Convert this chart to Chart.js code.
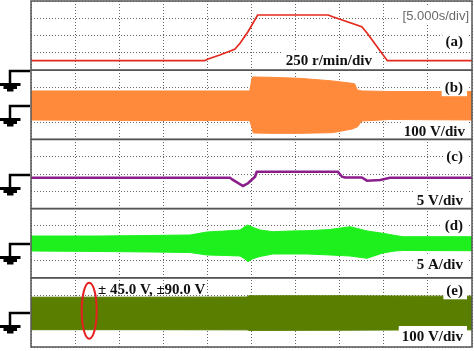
<!DOCTYPE html>
<html>
<head>
<meta charset="utf-8">
<script src="https://cdn.jsdelivr.net/npm/chart.js"></script>
<style>
    html, body { margin: 0; padding: 0; background: #fff; }
    canvas { display: block; }
</style>
</head>
<body>
<canvas id="osc" width="474" height="351"></canvas>
<script>
/*
    Scope capture, 5.000 s/div, 10 div
*/
const time_ticks = [0, 5, 10, 15, 20, 25, 30, 35, 40, 45, 50];

// (a) speed, r/min
const speed_t = [0, 19.7, 20.0, 21.4, 23.1, 23.7, 24.6, 25.7, 33.7, 34.2, 37.5, 38.1, 40.4, 50];
const speed_v = [137, 137, 158, 220, 302, 389, 556, 798, 798, 773, 629, 538, 137, 137];

// (b) output voltage envelope, V
const vout_t  = [0, 13.5, 24.8, 25.06, 25.2, 27.1, 30.5, 34.2, 36.4, 36.7, 37.0, 37.5, 40.7, 50];
const vout_hi = [80, 80, 80, 155, 161, 159, 153, 138, 124, 121, 86, 80, 77, 77];
const vout_lo = [-88, -91, -91, -134, -163, -165, -165, -161, -140, -134, -128, -94, -85, -88];

// (c) voltage, V
const vc_t = [0, 22.56, 22.9, 24.04, 24.6, 25.4, 25.6, 34.8, 35.26, 35.6, 37.5, 38.1, 39.6, 40.7, 50];
const vc_v = [-1.07, -1.07, -1.73, -3.47, -2.69, -0.78, 0.66, 0.66, -0.78, -1.01, -1.01, -1.94, -1.73, -1.07, -1.07];

// (d) current envelope, A
const cur_t  = [0, 7.82, 13.49, 18.03, 19.95, 22.0, 23.7, 24.26, 24.6, 25.06, 25.96, 27.44, 29.37, 31.3, 33.9, 36.17, 38.1, 39.9, 41.27, 42.2, 50];
const cur_hi = [2.08, 2.08, 2.23, 2.37, 3.24, 3.53, 3.81, 4.83, 5.26, 4.68, 3.81, 3.32, 3.53, 3.61, 3.96, 4.77, 3.53, 2.86, 2.23, 1.88, 1.88];
const cur_lo = [-2.25, -2.4, -2.54, -2.69, -3.41, -3.55, -3.7, -4.57, -5.35, -4.57, -3.84, -3.12, -3.12, -3.12, -3.41, -3.7, -4.36, -2.83, -2.25, -2.11, -2.17];

// (e) voltage envelope, V
const ve_t  = [0, 13.5, 24.5, 24.7, 35, 46, 50];
const ve_hi = [88, 88, 89, 96, 96, 94, 94];
const ve_lo = [-100, -100, -101, -104, -103, -101, -101];

// panels, top to bottom
const panel_ids    = ['ya', 'yb', 'yc', 'yd', 'ye'];
const panel_names  = ['(a)', '(b)', '(c)', '(d)', '(e)'];
const panel_units  = ['250 r/min/div', '100 V/div', '5 V/div', '5 A/div', '100 V/div'];
const panel_min    = [0, -200, -10, -10, -200];
const panel_max    = [1000, 200, 10, 10, 200];
const panel_step   = [250, 100, 5, 5, 100];
const time_label   = '[5.000s/div]';
const note_label   = '\u00b1 45.0 V, \u00b190.0 V';
const note_time    = 6.6;   // s, ringed spot in (e)

const pts = (t, v) => t.map((x, i) => ({ x: x, y: v[i] }));

function band(t, hi, lo, axis, color) {
    return [{
        data: pts(t, hi), yAxisID: axis,
        borderColor: color, backgroundColor: color, borderWidth: 1,
        fill: false, pointRadius: 0
    }, {
        data: pts(t, lo), yAxisID: axis,
        borderColor: color, backgroundColor: color, borderWidth: 1,
        fill: '-1', pointRadius: 0
    }];
}

const datasets = [
    { data: pts(speed_t, speed_v), yAxisID: 'ya', borderColor: '#e42a1e', borderWidth: 1.7, fill: false, pointRadius: 0 },
    ...band(vout_t, vout_hi, vout_lo, 'yb', '#ff8a3c'),
    { data: pts(vc_t, vc_v), yAxisID: 'yc', borderColor: '#8c1e8c', borderWidth: 2.6, fill: false, pointRadius: 0 },
    ...band(cur_t, cur_hi, cur_lo, 'yd', '#1ef01e'),
    ...band(ve_t, ve_hi, ve_lo, 'ye', '#5a7f00')
];

const scales = {
    x: {
        type: 'linear', min: time_ticks[0], max: time_ticks[time_ticks.length - 1],
        afterBuildTicks: (s) => { s.ticks = time_ticks.map(v => ({ value: v })); },
        ticks: { display: false },
        grid: { color: '#666', lineWidth: 1, drawTicks: false },
        border: { display: false, dash: [1, 2] }
    }
};
// stacked axes are laid out bottom-up, so add them from (e) to (a)
for (let i = panel_ids.length - 1; i >= 0; i--) {
    scales[panel_ids[i]] = {
        type: 'linear', position: 'left', stack: 'osc', stackWeight: 1,
        min: panel_min[i], max: panel_max[i],
        ticks: { display: false, stepSize: panel_step[i] },
        grid: { color: '#666', lineWidth: 1, drawTicks: false },
        border: { display: false, dash: [1, 2] }
    };
}

function drawGround(ctx, y) {
    ctx.strokeStyle = '#000';
    ctx.lineWidth = 2.5;
    ctx.beginPath();
    ctx.moveTo(30, y);
    ctx.lineTo(10, y);
    ctx.lineTo(10, y + 12);
    ctx.stroke();
    ctx.fillStyle = '#000';
    ctx.fillRect(0, y + 12, 20.5, 3);
    ctx.fillRect(3.5, y + 15, 13.5, 3);
    ctx.fillRect(7, y + 18, 6.5, 2.5);
}

function boxText(ctx, text, x, y, ink) {
    // right aligned text on a white patch
    const w = ctx.measureText(text).width;
    const x0 = x - w;
    ctx.fillStyle = '#fff';
    ctx.fillRect(x0 - 3, y - 11, w + 7, 19);
    ctx.fillStyle = ink;
    ctx.textAlign = 'left';
    ctx.fillText(text, x0, y);
}

const osc_overlay = {
    id: 'osc_overlay',
    afterDatasetsDraw(chart) {
        const ctx = chart.ctx;
        const area = chart.chartArea;
        ctx.save();
        ctx.textBaseline = 'middle';

        // time base
        ctx.font = '13px "Liberation Sans", Arial, sans-serif';
        boxText(ctx, time_label, area.right - 3, 16, '#6a6a6a');

        // channel names and scales
        const name_dy = [41, 18, 17.5, 17.5, 13.5];
        const unit_dy = [-9, -7.5, -7, -13, -10];
        const unit_x  = [372, 465, 463, 463, 463];
        ctx.font = 'bold 15px "Liberation Serif", "Times New Roman", serif';
        panel_ids.forEach((id, i) => {
            const s = chart.scales[id];
            boxText(ctx, panel_names[i], area.right - 9, s.top + name_dy[i], '#111');
            boxText(ctx, panel_units[i], unit_x[i], s.bottom + unit_dy[i], '#111');
        });

        // panel frames
        ctx.strokeStyle = '#555';
        ctx.lineWidth = 1.5;
        panel_ids.forEach(id => {
            const s = chart.scales[id];
            ctx.strokeRect(area.left, s.top, area.right - area.left, s.bottom - s.top);
        });
        ctx.restore();
    },
    afterDraw(chart) {
        const ctx = chart.ctx;
        const se = chart.scales.ye;
        const sx = chart.scales.x;
        ctx.save();

        // note in (e)
        ctx.font = 'bold 15px "Liberation Serif", "Times New Roman", serif';
        ctx.textBaseline = 'middle';
        ctx.fillStyle = '#111';
        ctx.textAlign = 'left';
        ctx.fillText(note_label, 98, se.top + 12.5);

        // ring
        ctx.strokeStyle = '#e62020';
        ctx.lineWidth = 2;
        ctx.beginPath();
        ctx.ellipse(sx.getPixelForValue(note_time), se.getPixelForValue(10), 7.5, 28, 0, 0, Math.PI * 2);
        ctx.stroke();

        // ground markers
        panel_ids.forEach(id => {
            drawGround(ctx, Math.round(chart.scales[id].getPixelForValue(0)) + 1);
        });
        ctx.restore();
    }
};

const ctx_osc = document.getElementById('osc').getContext('2d');
const myChart = new Chart(ctx_osc, {
    type: 'line',
    data: { datasets: datasets },
    options: {
        animation: false,
        responsive: false,
        maintainAspectRatio: false,
        layout: { padding: { left: 31, right: 2, top: 1, bottom: 4 } },
        plugins: { legend: { display: false }, tooltip: { enabled: false } },
        elements: { line: { tension: 0 } },
        scales: scales
    },
    plugins: [osc_overlay]
});
</script>
</body>
</html>
